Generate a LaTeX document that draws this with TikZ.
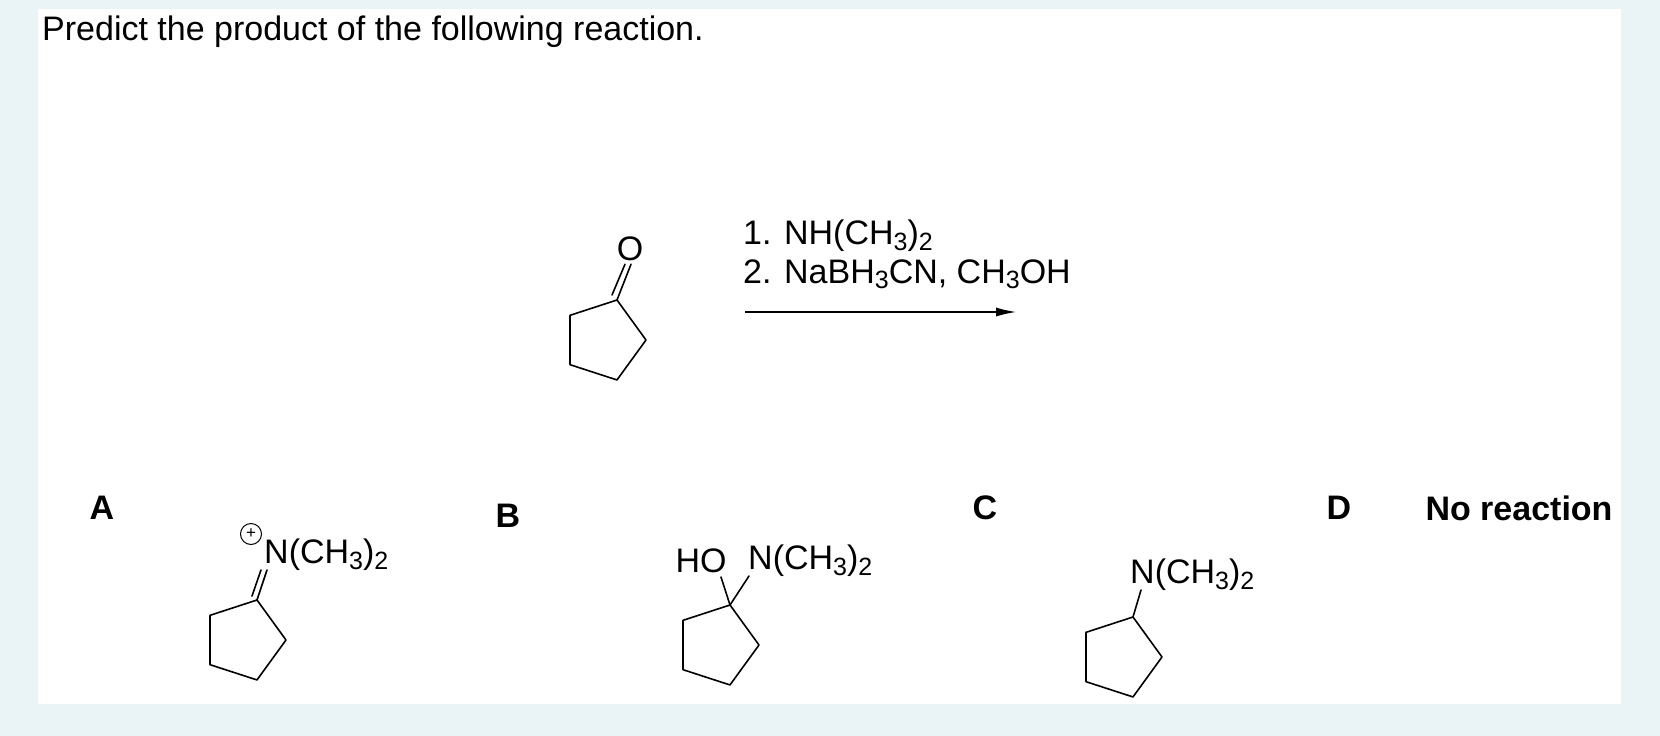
\documentclass[tikz,border=0pt]{standalone}
\usepackage{fontspec}
\setmainfont{Liberation Sans}
\usetikzlibrary{arrows.meta,calc}
\tikzset{
  lbl/.style={inner sep=0pt,font=\fontsize{34}{38}\selectfont},
  bold/.style={inner sep=0pt,font=\fontsize{34}{38}\selectfont\bfseries},
  bond/.style={line width=1.6pt,line cap=round,line join=round}
}
\newcommand{\sbs}[1]{\raisebox{-0.3ex}{\fontsize{25}{25}\selectfont #1}}
\newcommand{\myring}[2]{% #1 name prefix, #2 carbonyl carbon position
  \coordinate (#1c) at #2;
  \path (#1c) ++(-13,40) coordinate (#1m);
  \foreach \a/\n in {0/r,72/b,144/lb,216/lt}{\path (#1m) ++(\a:42) coordinate (#1\n);}
  \draw[bond] (#1c) -- (#1r) -- (#1b) -- (#1lb) -- (#1lt) -- cycle;
}
\begin{document}
\begin{tikzpicture}[x=1pt,y=-1pt]
\fill[fill={rgb,255:red,234;green,244;blue,247}] (0,0) rectangle (1660,736);
\useasboundingbox (0,0) rectangle (1660,736);
\fill[white] (38,9) rectangle (1621,704);
\node[lbl,anchor=west] (title) at (42,32) {Predict the product of the following reaction.};
% ketone
\myring{k}{(617,300)}
\node[lbl] (O) at (630,249) {O};
\draw[bond] (kc) -- ($(O.south)+(1,3)$);
\draw[bond] ($(kc)+(-5,-5)$) -- ($(O.south)+(-5,3)$);
\node[lbl,anchor=west] (r1) at (743,236) {1. NH(CH\sbs{3})\sbs{2}};
\node[lbl,anchor=west] (r2) at (743,274) {2. NaBH\sbs{3}CN, CH\sbs{3}OH};
\coordinate (a1) at (745,312);
\coordinate (a2) at (1016,312);
\draw[line width=1.2pt,-{Latex[length=20pt,width=9pt]}] (a1) -- (a2);
% labels
\node[bold] (A) at (102,508) {A};
\node[bold] (B) at (508,516) {B};
\node[bold] (C) at (985,508) {C};
\node[bold] (D) at (1339,508) {D};
\node[bold] (NR) at (1519,508) {No reaction};
% A
\myring{a}{(257,600)}
\node[lbl,anchor=west] (aN) at (264,555) {N(CH\sbs{3})\sbs{2}};
\draw[bond] (ac) -- ++(10,-30) coordinate (an1);
\draw[bond] ($(ac)+(-5,-4)$) -- ++(9,-26);
\node[draw,circle,line width=1pt,inner sep=0pt,minimum size=21pt,font=\fontsize{17}{17}\selectfont] (plus) at (251,534) {+};
% B
\myring{b}{(730,605)}
\node[lbl] (HO) at (701,561) {HO};
\node[lbl,anchor=west] (bN) at (748,561) {N(CH\sbs{3})\sbs{2}};
\draw[bond] (bc) -- (721,577);
\draw[bond] (bc) -- (749,576);
% C
\myring{c}{(1133,617)}
\node[lbl,anchor=west] (cN) at (1130,575) {N(CH\sbs{3})\sbs{2}};
\draw[bond] (cc) -- (1141,590);
\end{tikzpicture}
\end{document}
